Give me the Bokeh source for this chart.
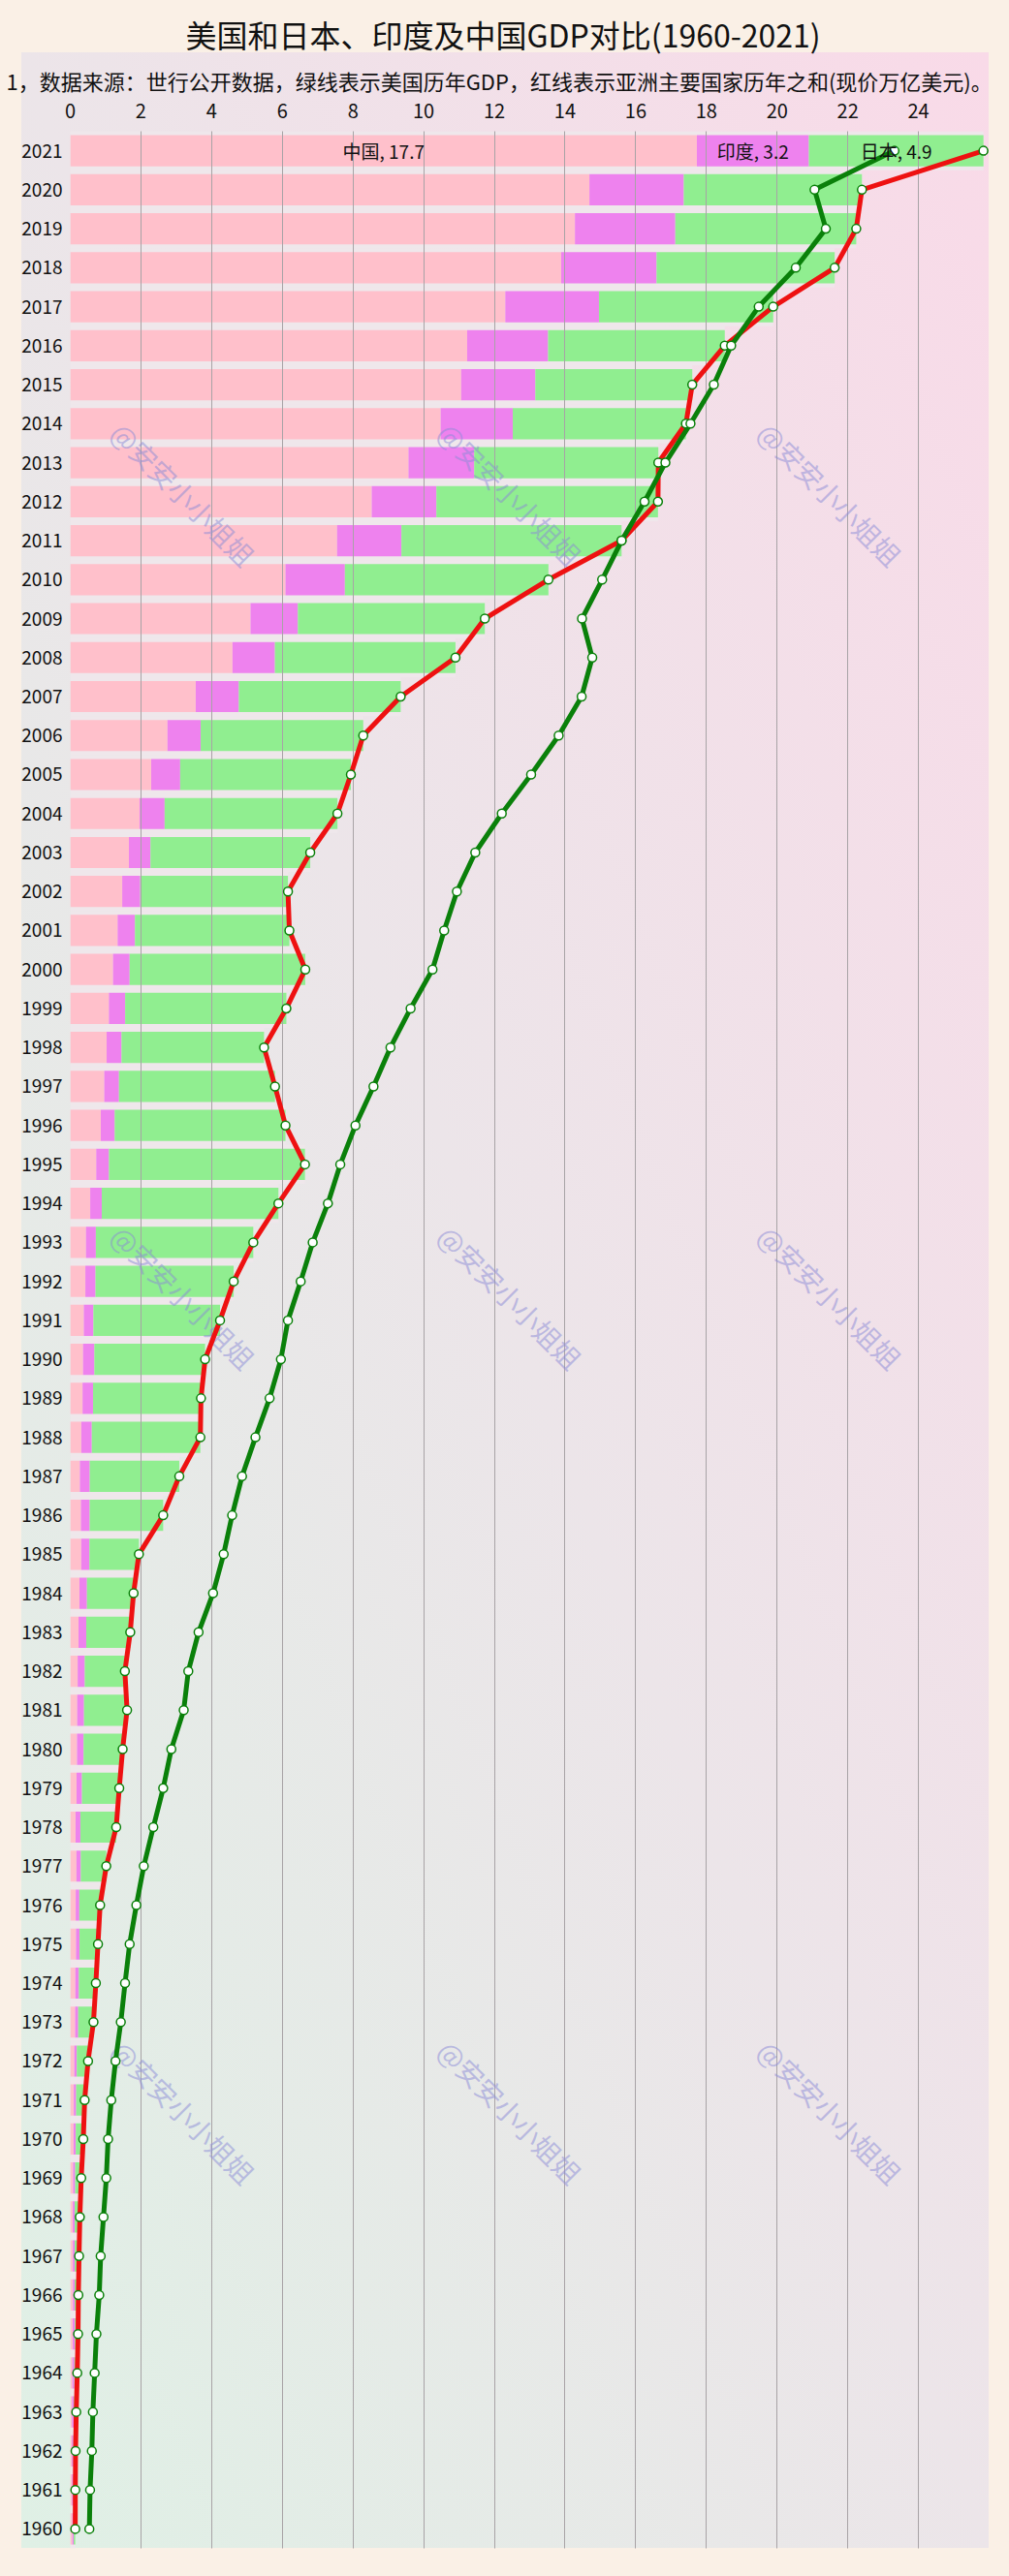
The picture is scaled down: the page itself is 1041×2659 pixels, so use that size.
import numpy as np
from bokeh.plotting import figure
from bokeh.models import ColumnDataSource, Range1d, FixedTicker, Title
from bokeh.core.properties import value
from bokeh.embed import file_html
from bokeh.resources import INLINE

# ---------------- data (trillion current USD) ----------------
years = list(range(1960, 2022))

china = [0.060, 0.050, 0.047, 0.051, 0.060, 0.070, 0.077, 0.073, 0.071, 0.080,
         0.093, 0.100, 0.114, 0.139, 0.144, 0.163, 0.154, 0.175, 0.150, 0.178,
         0.191, 0.196, 0.210, 0.234, 0.260, 0.310, 0.301, 0.272, 0.312, 0.348,
         0.361, 0.383, 0.427, 0.445, 0.564, 0.735, 0.864, 0.962, 1.029, 1.094,
         1.21, 1.34, 1.47, 1.66, 1.96, 2.29, 2.75, 3.55, 4.59, 5.10,
         6.09, 7.55, 8.53, 9.57, 10.48, 11.06, 11.23, 12.31, 13.89, 14.28,
         14.69, 17.73]

india = [0.037, 0.039, 0.042, 0.048, 0.056, 0.059, 0.046, 0.051, 0.053, 0.058,
         0.063, 0.067, 0.071, 0.086, 0.100, 0.099, 0.103, 0.122, 0.137, 0.153,
         0.186, 0.193, 0.200, 0.219, 0.212, 0.233, 0.249, 0.280, 0.297, 0.296,
         0.321, 0.271, 0.288, 0.279, 0.327, 0.360, 0.393, 0.416, 0.421, 0.459,
         0.47, 0.49, 0.51, 0.61, 0.71, 0.82, 0.94, 1.22, 1.20, 1.34,
         1.68, 1.82, 1.83, 1.86, 2.04, 2.10, 2.29, 2.65, 2.70, 2.84,
         2.67, 3.17]

japan = [0.044, 0.054, 0.061, 0.070, 0.082, 0.091, 0.106, 0.124, 0.147, 0.172,
         0.213, 0.240, 0.318, 0.432, 0.480, 0.522, 0.587, 0.722, 1.013, 1.055,
         1.105, 1.218, 1.135, 1.244, 1.319, 1.399, 2.079, 2.533, 3.072, 3.054,
         3.133, 3.584, 3.909, 4.455, 4.999, 5.546, 4.833, 4.415, 4.033, 4.562,
         4.97, 4.37, 4.18, 4.52, 4.89, 4.83, 4.60, 4.58, 5.11, 5.29,
         5.76, 6.23, 6.27, 5.21, 4.90, 4.44, 5.00, 4.93, 5.04, 5.12,
         5.04, 4.94]

usa = [0.54, 0.56, 0.61, 0.64, 0.69, 0.74, 0.82, 0.86, 0.94, 1.02,
       1.07, 1.16, 1.28, 1.43, 1.55, 1.68, 1.87, 2.08, 2.35, 2.63,
       2.86, 3.21, 3.34, 3.63, 4.04, 4.34, 4.58, 4.86, 5.24, 5.64,
       5.96, 6.16, 6.52, 6.86, 7.29, 7.64, 8.07, 8.58, 9.06, 9.63,
       10.25, 10.58, 10.94, 11.46, 12.21, 13.04, 13.82, 14.47, 14.77, 14.48,
       15.05, 15.60, 16.25, 16.84, 17.55, 18.21, 18.70, 19.48, 20.53, 21.38,
       21.06, 23.32]

country_names = ["中国", "印度", "日本"]
x_ticks = list(range(0, 26, 2))

TITLE = "美国和日本、印度及中国GDP对比(1960-2021)"
SUBTITLE = "1，数据来源：世行公开数据，绿线表示美国历年GDP，红线表示亚洲主要国家历年之和(现价万亿美元)。"
WATERMARK = "@安安小小姐姐"

# ---------------- derived ----------------
c = np.array(china)
i = np.array(india)
j = np.array(japan)
s1 = c
s2 = c + i
tot = c + i + j

FONT = "'Noto Sans CJK SC', 'Noto Sans', sans-serif"

src = ColumnDataSource(dict(y=years, zero=[0] * len(years), s1=s1, s2=s2, tot=tot, us=usa))

p = figure(width=1041, height=2659,
           x_range=Range1d(0, 26), y_range=Range1d(1959.5, 2021.5),
           x_axis_location="above",
           output_backend="svg", toolbar_location=None,
           min_border_left=72, min_border_right=21,
           min_border_top=135, min_border_bottom=29,
           title=TITLE)

p.background_fill_color = None
p.border_fill_color = None
p.outline_line_color = None
p.styles = {
    "background": "linear-gradient(to bottom left, #f9dae8 0%, #ece5e9 50%, #dff0e5 100%) "
                  "22px 54px / 998px 2576px no-repeat, #faf0e6"
}

# titles
p.title.text_font = FONT
p.title.text_font_size = "32px"
p.title.text_font_style = "normal"
p.title.text_color = "#111111"
p.title.align = "left"
p.title.offset = 119
p.title.standoff = 4

sub = Title(text=SUBTITLE, align="left", offset=-66, text_font=FONT,
            text_font_size="22px", text_font_style="normal", text_color="#111111",
            standoff=10)
p.add_layout(sub, "above")

# bar background strips (light gaps)
p.hbar(y="y", left="zero", right="tot", height=1.0, fill_color="#efe7eb",
       line_color=None, source=src)
# stacked bars
p.hbar(y="y", left="zero", right="s1", height=0.8, fill_color="pink",
       line_color=None, source=src)
p.hbar(y="y", left="s1", right="s2", height=0.8, fill_color="violet",
       line_color=None, source=src)
p.hbar(y="y", left="s2", right="tot", height=0.8, fill_color="lightgreen",
       line_color=None, source=src)

# watermarks
wm_x = [3.2, 12.45, 21.5] * 3
wm_y = [2012.2] * 3 + [1991.6] * 3 + [1970.7] * 3
wm = p.text(x=wm_x, y=wm_y, text=[WATERMARK] * 9, angle=-np.pi / 4,
            text_color="#8a8ad6", text_alpha=0.5, text_font=value(FONT),
            text_font_size="28px", text_align="center", text_baseline="middle")
wm.level = "overlay"

# lines
r1 = p.line(x="tot", y="y", source=src, line_color="#ee1111", line_width=5)
r2 = p.line(x="us", y="y", source=src, line_color="#0a800a", line_width=5)
m1 = p.scatter(x="tot", y="y", source=src, size=9, fill_color="white",
               line_color="#0a800a", line_width=1.5)
m2 = p.scatter(x="us", y="y", source=src, size=9, fill_color="white",
               line_color="#0a800a", line_width=1.5)
for r in (r1, r2, m1, m2):
    r.level = "overlay"

# labels for latest year
last = len(years) - 1
lx = [s1[last] / 2, (s1[last] + s2[last]) / 2, (s2[last] + tot[last]) / 2]
lt = [f"{country_names[0]}, {china[last]:.1f}",
      f"{country_names[1]}, {india[last]:.1f}",
      f"{country_names[2]}, {japan[last]:.1f}"]
lab = p.text(x=lx, y=[years[last]] * 3, text=lt, text_font=value(FONT),
             text_font_size="19px", text_color="#111111",
             text_align="center", text_baseline="middle")
lab.level = "overlay"

# axes
p.xaxis.ticker = FixedTicker(ticks=x_ticks)
p.xaxis.axis_line_color = None
p.xaxis.major_tick_line_color = None
p.xaxis.minor_tick_line_color = None
p.xaxis.major_label_text_font = FONT
p.xaxis.major_label_text_font_size = "20px"
p.xaxis.major_label_text_color = "#111111"
p.xaxis.major_label_standoff = 8

p.yaxis.ticker = FixedTicker(ticks=years)
p.yaxis.axis_line_color = None
p.yaxis.major_tick_line_color = None
p.yaxis.minor_tick_line_color = None
p.yaxis.major_label_text_font = FONT
p.yaxis.major_label_text_font_size = "19px"
p.yaxis.major_label_text_color = "#111111"
p.yaxis.major_label_standoff = 2

p.xgrid.ticker = FixedTicker(ticks=x_ticks)
p.xgrid.grid_line_color = "#a8a3a6"
p.xgrid.grid_line_width = 1
p.xgrid.level = "annotation"
p.ygrid.grid_line_color = None

open("out.html", "w").write(file_html(p, INLINE))
